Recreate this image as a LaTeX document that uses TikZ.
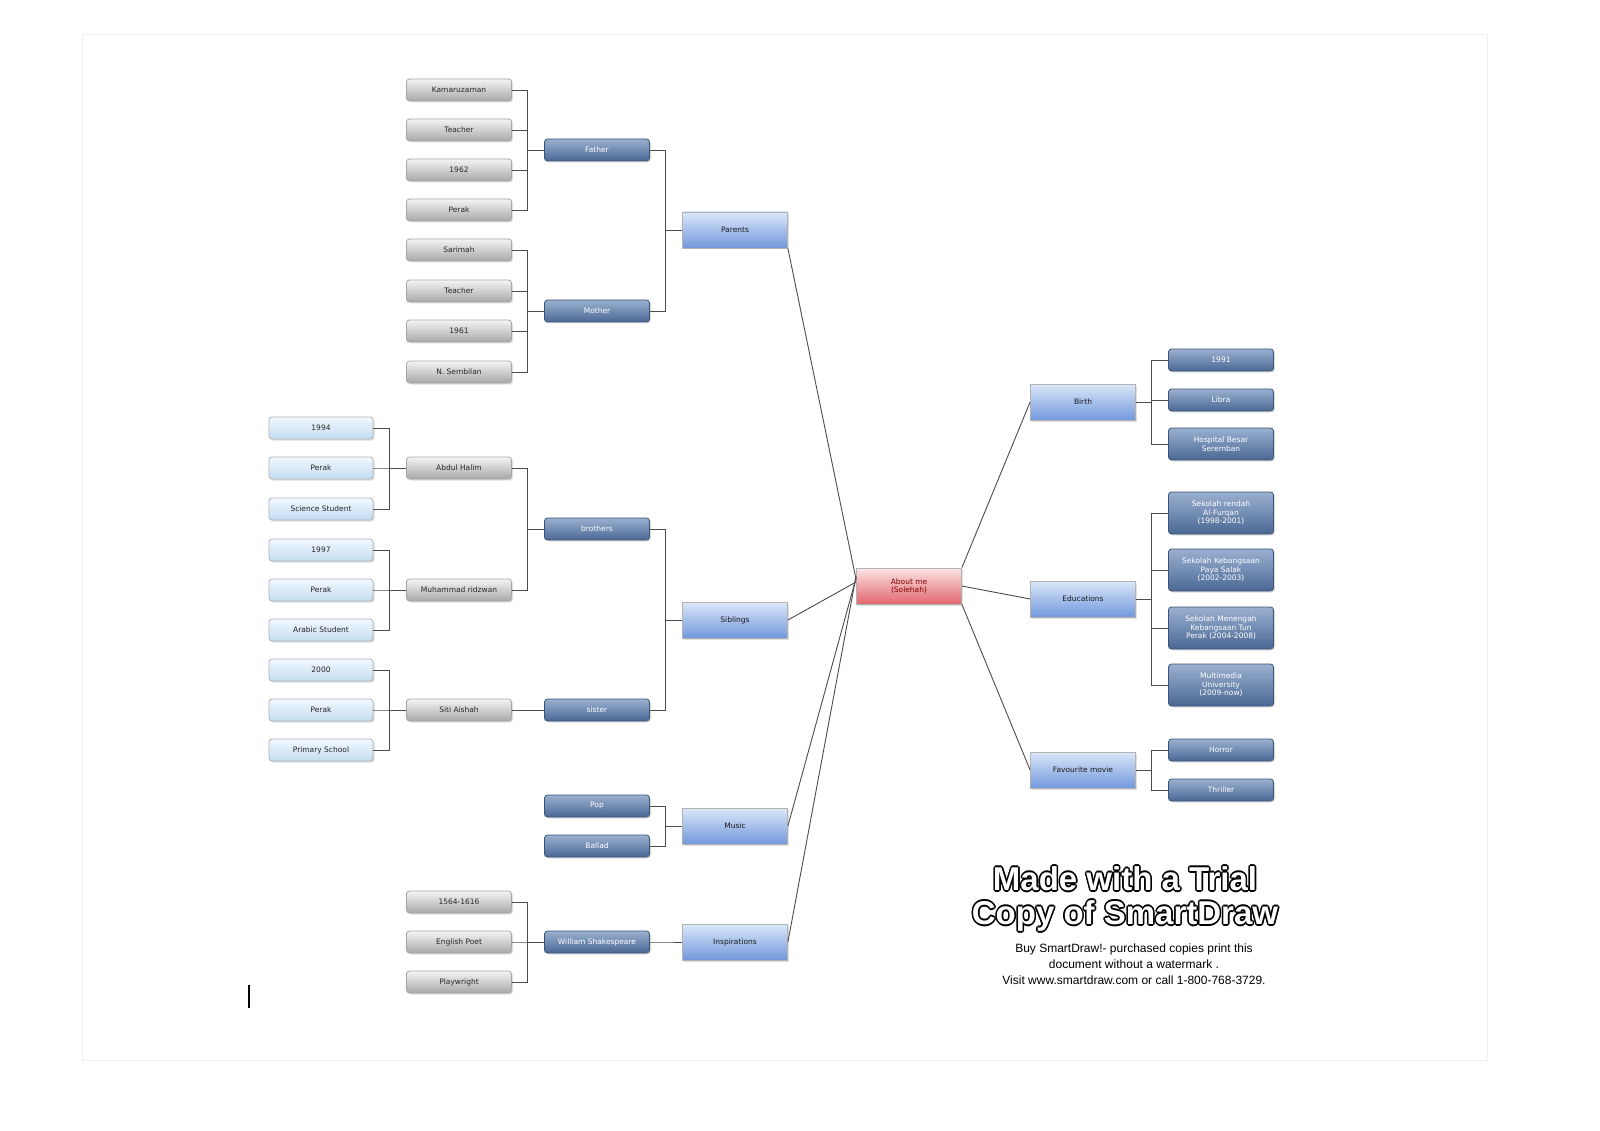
\documentclass[tikz,border=0pt]{standalone}
\usepackage{fontspec}
\setmainfont{DejaVu Sans}
\newfontfamily\wmfont{Liberation Sans}
\usetikzlibrary{shadows}
\definecolor{gtop}{HTML}{F4F4F4}\definecolor{gbot}{HTML}{A8A8A8}
\definecolor{ltop}{HTML}{F2F8FF}\definecolor{lbot}{HTML}{C4DCF2}
\definecolor{mtop}{HTML}{DCE8FA}\definecolor{mbot}{HTML}{7198DC}
\definecolor{dtop}{HTML}{9AB0D0}\definecolor{dbot}{HTML}{4A6894}
\definecolor{rtop}{HTML}{FCE4E4}\definecolor{rbot}{HTML}{E2666E}
\tikzset{
 base/.style={rounded corners=3pt, draw=gray!70, line width=0.8pt, align=center,
   font=\fontsize{7.5}{8.5}\selectfont, inner sep=1pt, drop shadow={shadow xshift=1.5pt,shadow yshift=-1.5pt,opacity=0.25}},
 gbox/.style={base, minimum width=105pt, minimum height=22pt, top color=gtop, bottom color=gbot, text=gray!30!black},
 lbox/.style={base, minimum width=104pt, minimum height=22pt, top color=ltop, bottom color=lbot, text=gray!30!black, draw=gray!60},
 dbox/.style={base, minimum width=105pt, minimum height=22pt, top color=dtop, bottom color=dbot, text=white, draw=dbot!80!black},
 mbox/.style={base, rounded corners=0pt, minimum width=105pt, minimum height=36pt, top color=mtop, bottom color=mbot, text=gray!20!black, draw=gray!60},
 rbox/.style={base, rounded corners=0pt, minimum width=105pt, minimum height=36pt, top color=rtop, bottom color=rbot, text=red!50!black, draw=gray!60},
 link/.style={draw=gray!60!black, line width=0.9pt},
 wmtitle/.style={font=\wmfont\bfseries\fontsize{33}{34}\selectfont, align=center},
}
\begin{document}
\begin{tikzpicture}[x=1pt,y=-1pt]
\useasboundingbox (0,0) rectangle (1600,1131);
\fill[white] (0,0) rectangle (1600,1131);
\draw[gray!12, line width=1pt] (82,35) rectangle (1487,1060);
\draw[black, line width=1.2pt] (249,985) -- (249,1008);
% left: parents
\node[gbox] (k1) at (459,90) {Kamaruzaman};
\node[gbox] (k2) at (459,130) {Teacher};
\node[gbox] (k3) at (459,170) {1962};
\node[gbox] (k4) at (459,210) {Perak};
\node[gbox] (m1) at (459,250) {Sarimah};
\node[gbox] (m2) at (459,291) {Teacher};
\node[gbox] (m3) at (459,331) {1961};
\node[gbox] (m4) at (459,372) {N. Sembilan};
\node[dbox] (father) at (597,150) {Father};
\node[dbox] (mother) at (597,311) {Mother};
\node[mbox] (parents) at (735,230) {Parents};
% siblings
\node[lbox] (a1) at (321,428) {1994};
\node[lbox] (a2) at (321,468) {Perak};
\node[lbox] (a3) at (321,509) {Science Student};
\node[lbox] (b1) at (321,550) {1997};
\node[lbox] (b2) at (321,590) {Perak};
\node[lbox] (b3) at (321,630) {Arabic Student};
\node[lbox] (c1) at (321,670) {2000};
\node[lbox] (c2) at (321,710) {Perak};
\node[lbox] (c3) at (321,750) {Primary School};
\node[gbox] (abdul) at (459,468) {Abdul Halim};
\node[gbox] (muh) at (459,590) {Muhammad ridzwan};
\node[gbox] (siti) at (459,710) {Siti Aishah};
\node[dbox] (brothers) at (597,529) {brothers};
\node[dbox] (sister) at (597,710) {sister};
\node[mbox] (siblings) at (735,620) {Siblings};
% music
\node[dbox] (pop) at (597,806) {Pop};
\node[dbox] (ballad) at (597,846) {Ballad};
\node[mbox] (music) at (735,826) {Music};
% inspirations
\node[gbox] (i1) at (459,902) {1564-1616};
\node[gbox] (i2) at (459,942) {English Poet};
\node[gbox] (i3) at (459,982) {Playwright};
\node[dbox] (will) at (597,942) {William Shakespeare};
\node[mbox] (insp) at (735,942) {Inspirations};
% center
\node[rbox] (center) at (909,586) {About me\\(Solehah)};
% right
\node[mbox] (birth) at (1083,402) {Birth};
\node[dbox] (r1) at (1221,360) {1991};
\node[dbox] (r2) at (1221,400) {Libra};
\node[dbox, minimum height=32pt] (r3) at (1221,444) {Hospital Besar\\Seremban};
\node[mbox] (edu) at (1083,599) {Educations};
\node[dbox, minimum height=42pt] (e1) at (1221,513) {Sekolah rendah\\Al-Furqan\\(1998-2001)};
\node[dbox, minimum height=42pt] (e2) at (1221,570) {Sekolah Kebangsaan\\Paya Salak\\(2002-2003)};
\node[dbox, minimum height=42pt] (e3) at (1221,628) {Sekolah Menengah\\Kebangsaan Tun\\Perak (2004-2008)};
\node[dbox, minimum height=42pt] (e4) at (1221,685) {Multimedia\\University\\(2009-now)};
\node[mbox] (movie) at (1083,770) {Favourite movie};
\node[dbox] (h1) at (1221,750) {Horror};
\node[dbox] (h2) at (1221,790) {Thriller};
% left brackets
\foreach \k/\p in {k1/father,k2/father,k3/father,k4/father,m1/mother,m2/mother,m3/mother,m4/mother,
  father/parents,mother/parents,a1/abdul,a2/abdul,a3/abdul,b1/muh,b2/muh,b3/muh,c1/siti,c2/siti,c3/siti,
  abdul/brothers,muh/brothers,brothers/siblings,sister/siblings,pop/music,ballad/music,
  i1/will,i2/will,i3/will,will/insp}
  \draw[link] (\k.east) -- ++(16,0) |- (\p.west);
\draw[link] (siti.east) -- (sister.west);
% right brackets
\foreach \p/\k in {birth/r1,birth/r2,birth/r3,edu/e1,edu/e2,edu/e3,edu/e4,movie/h1,movie/h2}
  \draw[link] (\p.east) -- ++(16,0) |- (\k.west);
% center links
\draw[link] (parents.south east) -- ([yshift=-12pt]center.north west);
\draw[link] (siblings.east) -- ([yshift=4pt]center.west);
\draw[link] (music.east) -- ([yshift=8pt]center.west);
\draw[link] (insp.east) -- ([yshift=10pt]center.west);
\draw[link] (center.north east) -- (birth.west);
\draw[link] (center.east) -- (edu.west);
\draw[link] (center.south east) -- (movie.west);
% watermark (outlined title)
\foreach \dx/\dy in {-1.6/0,1.6/0,0/-1.6,0/1.6,-1.2/-1.2,1.2/-1.2,-1.2/1.2,1.2/1.2}
  \node[wmtitle, text=black] at (1125+\dx,899+\dy) {Made with a Trial\\Copy of SmartDraw};
\node[wmtitle, text=white] (wm) at (1125,899) {Made with a Trial\\Copy of SmartDraw};
\node[font=\wmfont\fontsize{12}{16}\selectfont, align=center, anchor=north] (wm2) at (1134,940)
 {Buy SmartDraw!- purchased copies print this\\document without a watermark .\\Visit www.smartdraw.com or call 1-800-768-3729.};
\end{tikzpicture}
\end{document}
